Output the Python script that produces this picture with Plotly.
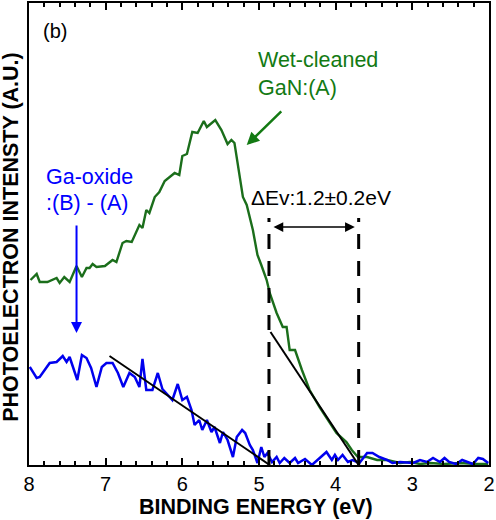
import plotly.graph_objects as go

# binding energy (eV) and intensity (a.u.)
wet_energy = [7.98, 7.90, 7.86, 7.76, 7.64, 7.60, 7.54, 7.47, 7.38, 7.31, 7.25, 7.21, 7.17, 7.12,
              7.01, 6.91, 6.86, 6.78, 6.73, 6.66, 6.56, 6.52, 6.47, 6.43, 6.36, 6.30, 6.23, 6.17,
              6.10, 6.04, 6.00, 5.94, 5.87, 5.80, 5.72, 5.68, 5.62, 5.57, 5.49, 5.41, 5.36, 5.32,
              5.21, 5.16, 5.08, 5.02, 4.97, 4.90, 4.86, 4.77, 4.69, 4.64, 4.60, 4.53, 4.44, 4.34,
              4.21, 4.08, 3.99, 3.86, 3.79, 3.71, 3.59, 3.46, 3.33, 3.16, 3.03, 2.90, 2.77, 2.58,
              2.38, 2.18, 2.01]
wet_int = [185, 191, 183, 183, 187, 182, 188, 183, 199, 188, 197, 197, 201, 198,
           199, 205, 203, 222, 224, 223, 240, 237, 255, 252, 268, 273, 284, 288,
           292, 290, 309, 311, 333, 332, 344, 338, 342, 345, 335, 321, 325, 322,
           268, 260, 235, 210, 200, 185, 172, 152, 138, 138, 115, 115, 95, 75,
           58, 42, 32, 23, 15, 8, 8, 5, 5, 2, 3, 1, 2, 1,
           2, 1, 1]

oxide_energy = [7.99, 7.90, 7.86, 7.73, 7.64, 7.56, 7.51, 7.47, 7.37, 7.31, 7.25, 7.19, 7.12, 7.05,
                6.99, 6.91, 6.84, 6.77, 6.69, 6.62, 6.56, 6.52, 6.47, 6.39, 6.32, 6.26, 6.13, 6.06,
                6.00, 5.94, 5.88, 5.84, 5.78, 5.74, 5.68, 5.62, 5.58, 5.51, 5.47, 5.41, 5.34, 5.29,
                5.22, 5.18, 5.12, 5.08, 5.02, 4.97, 4.93, 4.89, 4.83, 4.77, 4.73, 4.67, 4.60, 4.53,
                4.49, 4.40, 4.31, 4.17, 4.12, 4.05, 4.01, 3.97, 3.91, 3.84, 3.78, 3.69, 3.59, 3.52,
                3.43, 3.33, 3.26, 3.16, 2.99, 2.90, 2.81, 2.73, 2.64, 2.58, 2.52, 2.43, 2.35, 2.28,
                2.21, 2.14, 2.08, 2.01]
oxide_int = [98, 87, 88, 102, 103, 109, 103, 108, 85, 110, 107, 97, 78, 98,
             102, 102, 92, 78, 92, 88, 78, 106, 75, 75, 92, 76, 65, 81,
             65, 68, 55, 40, 45, 35, 45, 33, 38, 22, 33, 25, 8, 28,
             35, 32, 20, 15, 2, 18, 8, 12, 3, 8, 2, 7, 2, 7,
             2, 6, 0, 10, 13, 5, 10, 5, 10, 3, 5, 2, 12, 12,
             8, 5, 2, 3, 2, 5, 3, 7, 3, 7, 3, 1, 5, 3,
             1, 7, 6, 2]

# linear extrapolations of the leading edges
oxide_fit_e = [6.95, 4.86]
oxide_fit_i = [109, 0]
wet_fit_e = [4.85, 3.70]
wet_fit_i = [133, 0]

# valence band edges
edge_e = [4.87, 3.70]
edge_top = 247
arrow_y = 238

GREEN = "#1b6e1b"
BLUE = "#0000ee"
FONT = "Liberation Sans, Arial, sans-serif"

fig = go.Figure()
fig.add_trace(go.Scatter(x=wet_energy, y=wet_int, mode="lines",
                         line=dict(color=GREEN, width=2.4)))
fig.add_trace(go.Scatter(x=oxide_energy, y=oxide_int, mode="lines",
                         line=dict(color=BLUE, width=2.5)))
fig.add_trace(go.Scatter(x=oxide_fit_e, y=oxide_fit_i, mode="lines",
                         line=dict(color="black", width=2)))
fig.add_trace(go.Scatter(x=wet_fit_e, y=wet_fit_i, mode="lines",
                         line=dict(color="black", width=2)))
for e in edge_e:
    fig.add_trace(go.Scatter(x=[e, e], y=[0, edge_top], mode="lines",
                             line=dict(color="black", width=3, dash="15px,12px")))

ann = []
ann.append(dict(xref="paper", yref="paper", x=0.027, y=0.939, text="(b)",
                showarrow=False, xanchor="left", yanchor="middle",
                font=dict(size=20, color="black")))
ann.append(dict(xref="paper", yref="paper", x=0.493, y=0.877, text="Wet-cleaned",
                showarrow=False, xanchor="left", yanchor="middle",
                font=dict(size=21.5, color="#137a13")))
ann.append(dict(xref="paper", yref="paper", x=0.493, y=0.816, text="GaN:(A)",
                showarrow=False, xanchor="left", yanchor="middle",
                font=dict(size=21.5, color="#137a13")))
ann.append(dict(xref="paper", yref="paper", x=0.032, y=0.623, text="Ga-oxide",
                showarrow=False, xanchor="left", yanchor="middle",
                font=dict(size=21.5, color="#0000ff")))
ann.append(dict(xref="paper", yref="paper", x=0.032, y=0.567, text=":(B) - (A)",
                showarrow=False, xanchor="left", yanchor="middle",
                font=dict(size=21.5, color="#0000ff")))
ann.append(dict(xref="paper", yref="paper", x=0.478, y=0.580, text="ΔEv:1.2±0.2eV",
                showarrow=False, xanchor="left", yanchor="middle",
                font=dict(size=21, color="black")))
# arrows
ann.append(dict(x=3.75, y=arrow_y, ax=4.83, ay=arrow_y, xref="x", yref="y",
                axref="x", ayref="y", text="", showarrow=True, arrowside="end+start",
                arrowhead=2, arrowsize=1.3, arrowwidth=1.5, arrowcolor="black"))
ann.append(dict(x=7.38, y=132, ax=7.38, ay=241, xref="x", yref="y",
                axref="x", ayref="y", text="", showarrow=True,
                arrowhead=2, arrowsize=1.1, arrowwidth=2, arrowcolor="#0000ff"))
ann.append(dict(x=5.16, y=320, ax=4.69, ay=355, xref="x", yref="y",
                axref="x", ayref="y", text="", showarrow=True,
                arrowhead=2, arrowsize=1.0, arrowwidth=2.5, arrowcolor="#137a13"))
# axis titles
ann.append(dict(xref="paper", yref="paper", x=0.494, y=-0.091,
                text="<b>BINDING ENERGY (eV)</b>", showarrow=False,
                xanchor="center", yanchor="middle", font=dict(size=21.5, color="black")))
ann.append(dict(xref="paper", yref="paper", x=-0.038, y=0.493, textangle=-90,
                text="<b>PHOTOELECTRON INTENSTY (A.U.)</b>", showarrow=False,
                xanchor="center", yanchor="middle", font=dict(size=21.5, color="black")))

fig.update_layout(
    width=496, height=520,
    margin=dict(l=29, r=7, t=3, b=55, autoexpand=False),
    paper_bgcolor="white", plot_bgcolor="white",
    showlegend=False, hovermode=False,
    font=dict(family=FONT, color="black"),
    annotations=ann,
)
fig.update_xaxes(range=[8, 2], dtick=1, tick0=0, ticks="inside", ticklen=7, tickwidth=2,
                 tickcolor="black", showline=True, linewidth=2, linecolor="black",
                 mirror="ticks", showgrid=False, zeroline=False, automargin=False,
                 tickfont=dict(size=20, color="black"),
                 minor=dict(ticks="inside", ticklen=4, dtick=0.2, tickwidth=1.5,
                            tickcolor="black", showgrid=False))
fig.update_yaxes(range=[0, 462], showticklabels=False, ticks="", showline=True,
                 linewidth=2, linecolor="black", mirror=True, showgrid=False,
                 zeroline=False, automargin=False)

# drop the page's default body margin so the 496x520 figure fills the window
fig.write_html("out.html", config={"displayModeBar": False},
               post_script="document.body.style.margin='0';")
